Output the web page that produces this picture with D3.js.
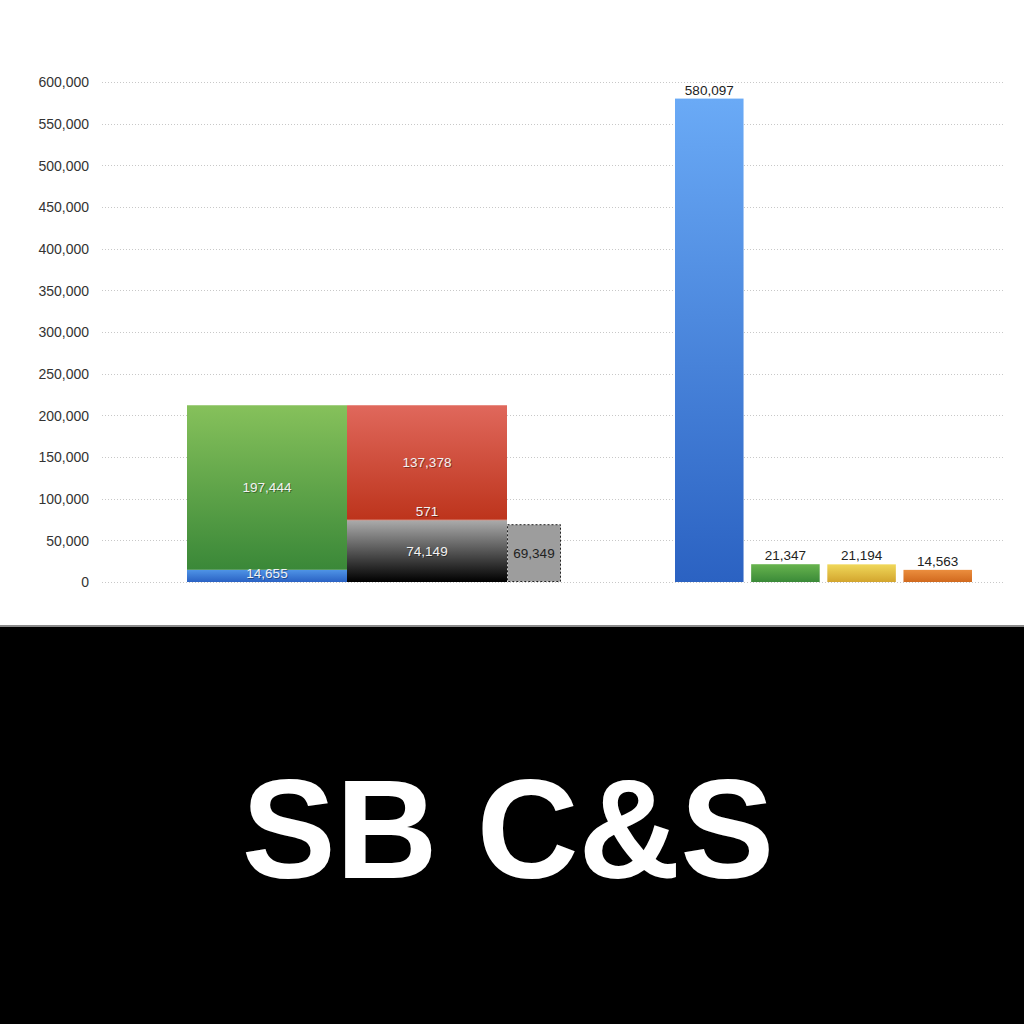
<!DOCTYPE html>
<html>
<head>
<meta charset="utf-8">
<script src="https://cdn.jsdelivr.net/npm/d3@7"></script>
<style>
  html, body { margin: 0; padding: 0; background: #fff; }
  svg { display: block; }
  .tick-label { font-family: "Liberation Sans", Arial, sans-serif; font-size: 14px; fill: #333; }
  .val { font-family: "Liberation Sans", Arial, sans-serif; font-size: 13.5px; text-anchor: middle; }
</style>
</head>
<body>
<div id="chart"></div>
<script>
(function() {
  // data
  var yTicks = [0, 50000, 100000, 150000, 200000, 250000, 300000, 350000, 400000, 450000, 500000, 550000, 600000]

  // left group, first stack (bottom -> top)
  var stackOneNames = ['blue', 'green']
  var stackOneValues = [14655, 197444]
  // left group, second stack (bottom -> top)
  var stackTwoNames = ['black', 'redLow', 'red']
  var stackTwoValues = [74149, 571, 137378]
  // left group, dashed bar
  var dashedValue = 69349

  // right group
  var rightNames = ['blue', 'green', 'yellow', 'orange']
  var rightValues = [580097, 21347, 21194, 14563]

  var width = 1024
  var height = 1024

  var svg = d3.select('#chart')
    .append('svg')
    .attr('width', width)
    .attr('height', height)

  // gradients
  var grads = {
    blue: ['#4f94e6', '#2a62c4'],
    green: ['#86c15b', '#3a8838'],
    red: ['#e0685c', '#bd341c'],
    redLow: ['#c33b22', '#c33b22'],
    black: ['#ababab', '#000000'],
    bigBlue: ['#6aaaf6', '#2b62c2'],
    smallGreen: ['#68b44e', '#3a8a38'],
    yellow: ['#f0d85a', '#d3a52e'],
    orange: ['#eb8e3e', '#d1691e']
  }
  var defs = svg.append('defs')
  Object.keys(grads).forEach(function(k) {
    var g = defs.append('linearGradient')
      .attr('id', 'g-' + k)
      .attr('x1', 0).attr('y1', 0).attr('x2', 0).attr('y2', 1)
    g.append('stop').attr('offset', '0%').attr('stop-color', grads[k][0])
    g.append('stop').attr('offset', '100%').attr('stop-color', grads[k][1])
  })

  // scales
  var y = d3.scaleLinear().domain([0, 600000]).range([582, 82])
  var xLeft = d3.scaleBand().domain(['one', 'two']).range([187, 507]).padding(0)
  var dashedWidth = 54
  var xRight = d3.scaleBand().domain(rightNames).range([675, 972]).paddingInner(0.1).paddingOuter(0)

  // grid
  var grid = svg.append('g')
  grid.selectAll('line')
    .data(yTicks)
    .enter().append('line')
    .attr('x1', 102).attr('x2', 1005)
    .attr('y1', d => Math.round(y(d)) + 0.5)
    .attr('y2', d => Math.round(y(d)) + 0.5)
    .attr('stroke', '#c8c8c8')
    .attr('stroke-width', 1)
    .attr('stroke-dasharray', '1,2')

  var yAxis = d3.axisLeft(y)
    .tickValues(yTicks)
    .tickSize(0)
    .tickPadding(0)
    .tickFormat(d3.format(','))
  var axisG = svg.append('g')
    .attr('transform', 'translate(89,0)')
    .call(yAxis)
  axisG.select('.domain').remove()
  axisG.selectAll('text')
    .attr('class', 'tick-label')
    .attr('dy', '0.35em')

  function stackUp(names, values) {
    var acc = 0
    return values.map(function(v, i) {
      var d = { name: names[i], value: v, y0: acc, y1: acc + v }
      acc += v
      return d
    })
  }

  var stackOne = stackUp(stackOneNames, stackOneValues)
  var stackTwo = stackUp(stackTwoNames, stackTwoValues)

  function drawStack(key, data) {
    var g = svg.append('g')
    g.selectAll('rect')
      .data(data)
      .enter().append('rect')
      .attr('x', xLeft(key))
      .attr('width', xLeft.bandwidth())
      .attr('y', d => y(d.y1))
      .attr('height', d => Math.max(0.5, y(d.y0) - y(d.y1)))
      .attr('fill', d => 'url(#g-' + d.name + ')')
    return g
  }

  drawStack('one', stackOne)
  drawStack('two', stackTwo)

  // dashed bar
  svg.append('rect')
    .attr('x', xLeft.range()[1] + 0.5)
    .attr('width', dashedWidth - 1)
    .attr('y', y(dashedValue) + 0.5)
    .attr('height', y(0) - y(dashedValue) - 1)
    .attr('fill', '#9d9d9d')
    .attr('stroke', '#222')
    .attr('stroke-width', 1)
    .attr('stroke-dasharray', '2,2')

  // right bars
  var rightFill = { blue: 'bigBlue', green: 'smallGreen', yellow: 'yellow', orange: 'orange' }
  svg.append('g').selectAll('rect')
    .data(rightValues)
    .enter().append('rect')
    .attr('x', (d, i) => xRight(rightNames[i]))
    .attr('width', xRight.bandwidth())
    .attr('y', d => y(d))
    .attr('height', d => y(0) - y(d))
    .attr('fill', (d, i) => 'url(#g-' + rightFill[rightNames[i]] + ')')

  var fmt = d3.format(',')

  // labels inside the stacks
  function innerLabel(x, yy, text) {
    svg.append('text')
      .attr('class', 'val')
      .attr('x', x + 1).attr('y', yy + 1)
      .attr('dy', '0.35em')
      .attr('fill', 'rgba(0,0,0,0.35)')
      .text(text)
    svg.append('text')
      .attr('class', 'val')
      .attr('x', x).attr('y', yy)
      .attr('dy', '0.35em')
      .attr('fill', '#f2f2f2')
      .text(text)
  }

  var cxOne = xLeft('one') + xLeft.bandwidth() / 2
  var cxTwo = xLeft('two') + xLeft.bandwidth() / 2

  // blue base label sits a bit high in its thin segment
  innerLabel(cxOne, y(stackOne[0].y1) + 3, fmt(stackOne[0].value))
  innerLabel(cxOne, (y(stackOne[1].y0) + y(stackOne[1].y1)) / 2, fmt(stackOne[1].value))
  innerLabel(cxTwo, (y(stackTwo[0].y0) + y(stackTwo[0].y1)) / 2, fmt(stackTwo[0].value))
  innerLabel(cxTwo, y(stackTwo[1].y1) - 8, fmt(stackTwo[1].value))
  innerLabel(cxTwo, (y(stackTwo[2].y0) + y(stackTwo[2].y1)) / 2, fmt(stackTwo[2].value))

  svg.append('text')
    .attr('class', 'val')
    .attr('x', xLeft.range()[1] + dashedWidth / 2)
    .attr('y', (y(0) + y(dashedValue)) / 2)
    .attr('dy', '0.35em')
    .attr('fill', '#222')
    .text(fmt(dashedValue))

  // labels above right bars
  svg.append('g').selectAll('text')
    .data(rightValues)
    .enter().append('text')
    .attr('class', 'val')
    .attr('x', (d, i) => xRight(rightNames[i]) + xRight.bandwidth() / 2)
    .attr('y', d => y(d) - 4)
    .attr('fill', '#222')
    .text(d => fmt(d))

  // footer
  svg.append('rect')
    .attr('x', 0).attr('y', 625)
    .attr('width', width).attr('height', 3)
    .attr('fill', '#8a8a8a')
  svg.append('rect')
    .attr('x', 0).attr('y', 627)
    .attr('width', width).attr('height', height - 627)
    .attr('fill', '#000')
  svg.append('text')
    .attr('x', 508)
    .attr('y', 878)
    .attr('text-anchor', 'middle')
    .attr('font-family', '"Liberation Sans", Arial, sans-serif')
    .attr('font-weight', 'bold')
    .attr('font-size', 141)
    .attr('fill', '#fff')
    .text('SB C&S')
})()
</script>
</body>
</html>
